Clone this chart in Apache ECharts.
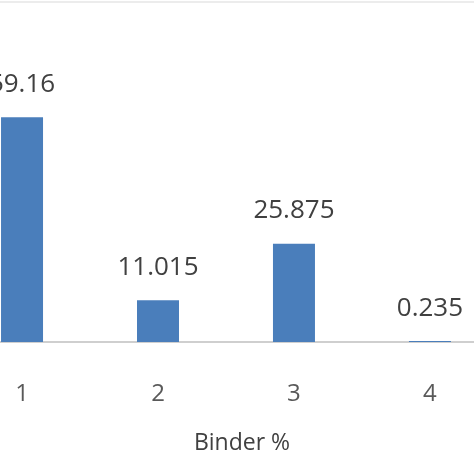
<!DOCTYPE html>
<html>
<head>
<meta charset="utf-8">
<script src="https://cdn.jsdelivr.net/npm/echarts@6/dist/echarts.min.js"></script>
<style>html,body{margin:0;padding:0;background:#fff}#c{width:474px;height:474px}</style>
</head>
<body>
<div id="c"></div>
<script>
var categories = [1, 2, 3, 4];
var values = [59.16, 11.015, 25.875, 0.235];
var xTitle = 'Binder %';

var chart = echarts.init(document.getElementById('c'));
chart.setOption({
  animation: false,
  title: {
    text: xTitle, left: 237, top: 427, textAlign: 'center',
    textStyle: { fontFamily: '"Open Sans", sans-serif', fontSize: 23, fontWeight: 'normal', color: '#404040' }
  },
  graphic: [{
    type: 'line', shape: { x1: 0, y1: 2, x2: 474, y2: 2 },
    style: { stroke: '#d9d9d9', lineWidth: 1 }
  }],
  grid: { left: 0, right: 0, top: 0, bottom: 132 },
  xAxis: {
    type: 'value', min: 0.838, max: 4.324,
    splitLine: { show: false },
    axisLine: { lineStyle: { color: '#bfbfbf', width: 1.5 } },
    axisTick: { show: false },
    axisLabel: { customValues: categories, margin: 40, fontSize: 24, color: '#595959', fontFamily: '"Open Sans", sans-serif' }
  },
  yAxis: { type: 'value', min: 0, max: 90, show: false, splitLine: { show: false } },
  series: [{
    type: 'bar', barWidth: 42,
    data: categories.map(function (c, i) { return [c, values[i]]; }),
    itemStyle: { color: '#4a7ebb' },
    label: {
      show: true, position: 'top', distance: 20, fontSize: 26, color: '#404040',
      fontFamily: '"Open Sans", sans-serif',
      formatter: function (p) { return String(p.value[1]); }
    }
  }]
});
</script>
</body>
</html>
